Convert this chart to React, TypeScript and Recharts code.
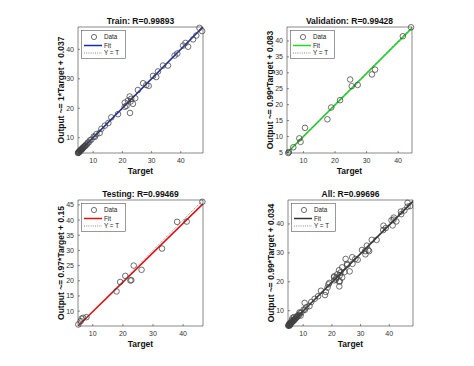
import React from "react";
import { ScatterChart, Scatter, XAxis, YAxis, ReferenceLine, Legend } from "recharts";

type Pt = [number, number]; // [target, output]

// training set
const trainPts: Pt[] = [
  [4.8, 4.8], [4.9, 5.0], [5.0, 4.9], [5.1, 5.2], [5.2, 5.1], [5.3, 5.4], [5.4, 5.3],
  [5.5, 5.6], [5.6, 5.5], [5.7, 5.8], [5.8, 5.7], [5.9, 6.0], [6.0, 6.1], [6.1, 6.0],
  [6.2, 6.3], [6.4, 6.3], [6.5, 6.6], [6.7, 6.8], [6.9, 6.9], [7.1, 7.2], [7.3, 7.2],
  [7.5, 7.6], [7.8, 7.7], [8.1, 8.3], [8.5, 8.4], [8.9, 9.1], [9.4, 9.4], [10.2, 10.4],
  [10.6, 10.3], [11.1, 11.2], [12.2, 11.6], [12.8, 13.0], [14.0, 14.1], [15.2, 15.0],
  [16.2, 16.9], [18.5, 18.0], [20.8, 21.9], [20.8, 20.5], [21.4, 20.8], [21.9, 22.6],
  [22.5, 24.0], [22.8, 22.3], [23.6, 21.5], [24.4, 23.4], [23.0, 23.2], [22.6, 18.4],
  [25.3, 26.2], [27.1, 28.5], [28.2, 27.9], [29.0, 27.6], [30.5, 31.0], [31.6, 30.6],
  [32.2, 32.5], [33.9, 34.5], [35.6, 34.5], [37.9, 37.9], [38.8, 38.6], [40.8, 41.3],
  [41.6, 42.2], [42.5, 40.9], [44.2, 43.4], [45.3, 44.7], [46.4, 47.3], [47.3, 46.2],
];

const valPts: Pt[] = [
  [5.2, 4.8], [5.4, 5.1], [6.8, 6.6], [8.7, 9.4], [9.1, 8.3], [10.5, 12.7], [17.6, 15.4],
  [18.8, 19.1], [21.6, 21.4], [24.8, 27.9], [25.3, 25.8], [27.2, 26.2], [31.7, 29.5],
  [32.7, 31.0], [41.5, 41.5], [44.1, 44.3],
];

const testPts: Pt[] = [
  [5.2, 5.6], [6.0, 6.7], [6.3, 7.5], [6.8, 7.8], [7.9, 8.0], [17.9, 16.5], [19.1, 19.6],
  [20.8, 21.6], [22.5, 20.1], [22.8, 20.2], [23.6, 25.0], [26.2, 23.6], [33.0, 30.6],
  [38.0, 39.4], [41.2, 39.5], [46.4, 46.0],
];

const allPts: Pt[] = [...trainPts, ...valPts, ...testPts];

const ticks10 = [10, 20, 30, 40];
const ticks5From5 = [5, 10, 15, 20, 25, 30, 35, 40];
const ticks5From10 = [10, 15, 20, 25, 30, 35, 40, 45];

const panels = [
  { title: "Train: R=0.99893", ylabel: "Output ~= 1*Target + 0.037", pts: trainPts, fit: [1, 0.037], color: "#1428b8", domain: [4.8, 47.6], xTicks: ticks10, yTicks: ticks10, left: 78, top: 27 },
  { title: "Validation: R=0.99428", ylabel: "Output ~= 0.99*Target + 0.083", pts: valPts, fit: [0.99, 0.083], color: "#22dd22", domain: [4.8, 44.4], xTicks: ticks10, yTicks: ticks5From5, left: 287, top: 27 },
  { title: "Testing: R=0.99469", ylabel: "Output ~= 0.97*Target + 0.15", pts: testPts, fit: [0.97, 0.15], color: "#dd1111", domain: [5.1, 46.6], xTicks: ticks10, yTicks: ticks5From10, left: 78, top: 200 },
  { title: "All: R=0.99696", ylabel: "Output ~= 0.99*Target + 0.034", pts: allPts, fit: [0.99, 0.034], color: "#333333", domain: [4.7, 48.3], xTicks: ticks10, yTicks: ticks10, left: 288, top: 200 },
];

const PLOT_W = 125;
const PLOT_H = 126;
const PAD_L = 60;
const PAD_T = 27;
const PAD_R = 10;
const PAD_B = 30;
const AXIS = "#3a3a3a";

const ring = (props: any) => (
  <circle cx={props.cx} cy={props.cy} r={2.8} fill="none" stroke="#404040" strokeWidth={0.75} />
);

function LegendBox({ color }: { color: string }) {
  return (
    <svg width={45} height={29} style={{ display: "block" }}>
      <rect x={0.5} y={0.5} width={44} height={28} fill="#fff" stroke="#555" strokeWidth={0.6} />
      <circle cx={13} cy={7} r={2.6} fill="none" stroke="#404040" strokeWidth={0.75} />
      <text x={23} y={9.3} fontSize={6.3} fill="#222">Data</text>
      <line x1={3} x2={21} y1={15.5} y2={15.5} stroke={color} strokeWidth={1.5} />
      <text x={23} y={17.8} fontSize={6.3} fill="#222">Fit</text>
      <line x1={3} x2={21} y1={23} y2={23} stroke="#555" strokeWidth={0.7} strokeDasharray="1 1.2" />
      <text x={23} y={25.3} fontSize={6.3} fill="#222">Y = T</text>
    </svg>
  );
}

function Panel({ p }: { p: (typeof panels)[number] }) {
  const [lo, hi] = p.domain;
  const [m, b] = p.fit;
  const rows = p.pts.map(([t, o]) => ({ t, o }));
  const tickStyle = { fontSize: 7, fill: "#333" };
  const lineStyle = { stroke: AXIS, strokeWidth: 0.6 };
  return (
    <div style={{ position: "absolute", left: p.left - PAD_L, top: p.top - PAD_T }}>
      <ScatterChart
        width={PAD_L + PLOT_W + PAD_R}
        height={PAD_T + PLOT_H + PAD_B}
        margin={{ top: PAD_T - 1, right: PAD_R - 1, bottom: PAD_B - 22, left: PAD_L - 40 }}
      >
        <XAxis
          type="number"
          dataKey="t"
          domain={[lo, hi]}
          ticks={p.xTicks}
          height={22}
          tickSize={-2}
          tickMargin={7}
          tick={tickStyle}
          axisLine={lineStyle}
          tickLine={lineStyle}
          label={{ value: "Target", position: "insideBottom", offset: 1, fontSize: 8.5, fontWeight: "bold", fill: "#111" }}
        />
        <XAxis
          xAxisId="top"
          orientation="top"
          type="number"
          domain={[lo, hi]}
          ticks={p.xTicks}
          allowDataOverflow
          height={1}
          tickSize={-2}
          tick={false}
          axisLine={lineStyle}
          tickLine={lineStyle}
          label={{ value: p.title, position: "top", offset: 2, fontSize: 8.5, fontWeight: "bold", fill: "#111" }}
        />
        <YAxis
          type="number"
          dataKey="o"
          domain={[lo, hi]}
          ticks={p.yTicks}
          width={40}
          tickSize={-2}
          tickMargin={6}
          tick={tickStyle}
          axisLine={lineStyle}
          tickLine={lineStyle}
          label={{
            value: p.ylabel,
            angle: -90,
            position: "insideLeft",
            offset: 23,
            fontSize: 8.5,
            fontWeight: "bold",
            fill: "#111",
            style: { textAnchor: "middle" },
          }}
        />
        <YAxis
          yAxisId="right"
          orientation="right"
          type="number"
          domain={[lo, hi]}
          ticks={p.yTicks}
          allowDataOverflow
          width={1}
          tickSize={-2}
          tick={false}
          axisLine={lineStyle}
          tickLine={lineStyle}
        />
        <Scatter data={rows} shape={ring} isAnimationActive={false} />
        <ReferenceLine
          segment={[{ x: lo, y: m * lo + b }, { x: hi, y: m * hi + b }]}
          stroke={p.color}
          strokeWidth={1.6}
          ifOverflow="hidden"
        />
        <ReferenceLine
          segment={[{ x: lo, y: lo }, { x: hi, y: hi }]}
          stroke="#555"
          strokeWidth={0.7}
          strokeDasharray="1 1.2"
          ifOverflow="hidden"
        />
        <Legend
          verticalAlign="middle"
          align="center"
          wrapperStyle={{ left: PAD_L + 3, top: PAD_T + 3, width: 45, height: 29 }}
          content={() => <LegendBox color={p.color} />}
        />
      </ScatterChart>
    </div>
  );
}

export default function App() {
  return (
    <div
      style={{
        position: "absolute",
        left: 0,
        top: 0,
        width: 474,
        height: 366,
        background: "#fff",
        fontFamily: "'Liberation Sans', Arial, Helvetica, sans-serif",
      }}
    >
      {panels.map((p) => (
        <Panel key={p.title} p={p} />
      ))}
    </div>
  );
}
